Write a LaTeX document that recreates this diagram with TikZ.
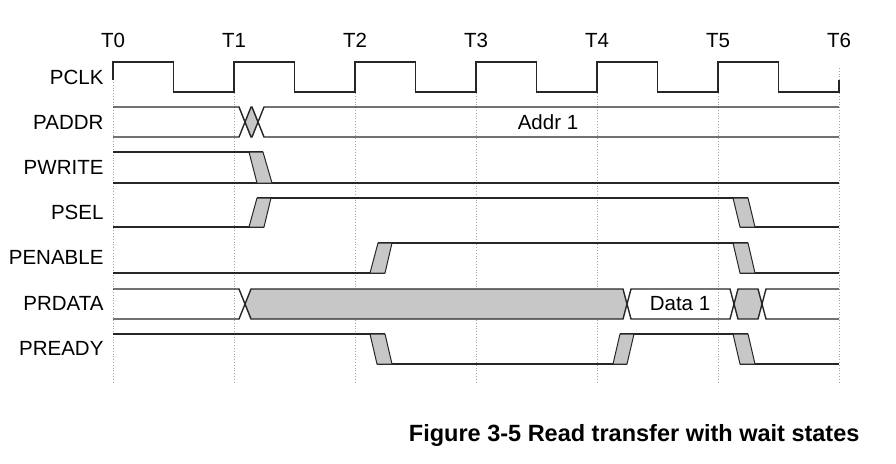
\documentclass[tikz,border=0pt]{standalone}
\usepackage{fontspec}
\setmainfont{Liberation Sans}
\begin{document}
\begin{tikzpicture}[x=1pt,y=-1pt,
  sig/.style={line width=1.4pt,black!85},
  tr/.style={draw=black!85,line width=1pt,fill=black!22},
  lab/.style={anchor=east,font=\fontsize{20.5}{20.5}\selectfont},
  tl/.style={font=\fontsize{20.5}{20.5}\selectfont},
  tm/.style={anchor=base,inner sep=0pt,font=\fontsize{20.5}{20.5}\selectfont},
  grid/.style={gray!70,dotted,line width=0.8pt}]
\useasboundingbox (0,0) rectangle (896,463);
% time marks
\foreach \i in {0,...,6}{
  \node[tm] (t\i) at (113+121*\i,47) {T\i};
  \draw[grid] (113+121*\i,68) -- (113+121*\i,382);
}
% labels
\node[lab] (lclk) at (107,77) {PCLK};
\node[lab] (ladr) at (107,122) {PADDR};
\node[lab] (lwr) at (107,167) {PWRITE};
\node[lab] (lsel) at (107,212) {PSEL};
\node[lab] (len) at (107,257) {PENABLE};
\node[lab] (lrd) at (107,303) {PRDATA};
\node[lab] (lrdy) at (107,348) {PREADY};
% PCLK
\draw[sig] (113,80) -- (113,62)
  \foreach \i in {0,...,5}{ -- ({113+121*\i},62) -- ({173.5+121*\i},62) -- ({173.5+121*\i},92) -- ({234+121*\i},92)} -- (839,80);
% PADDR
\fill[black!22] (245,122) -- (251,107) -- (252,107) -- (258,122) -- (252,137) -- (251,137) -- cycle;
\draw[sig] (113,107) -- (239,107) -- (251,137) -- (252,137) -- (264,107) -- (839,107);
\draw[sig] (113,137) -- (239,137) -- (251,107) -- (252,107) -- (264,137) -- (839,137);
\node[tl] (addr) at (548,122) {Addr 1};
% PWRITE
\draw[sig] (113,152) -- (263,152);
\draw[sig] (113,183) -- (839,183);
\draw[tr] (249,152) -- (263,152) -- (272,183) -- (257,183) -- cycle;
% PSEL
\draw[sig] (113,227) -- (264,227);
\draw[sig] (257,198) -- (748,198);
\draw[sig] (740,227) -- (839,227);
\draw[tr] (249,227) -- (264,227) -- (271,198) -- (257,198) -- cycle;
\draw[tr] (733,198) -- (748,198) -- (755,227) -- (740,227) -- cycle;
% PENABLE
\draw[sig] (113,273) -- (385,273);
\draw[sig] (378,243) -- (748,243);
\draw[sig] (740,273) -- (839,273);
\draw[tr] (370,273) -- (385,273) -- (392,243) -- (378,243) -- cycle;
\draw[tr] (733,243) -- (748,243) -- (755,273) -- (740,273) -- cycle;
% PRDATA
\fill[black!22] (245,304) -- (251,289) -- (623,289) -- (627,304) -- (623,319) -- (251,319) -- cycle;
\fill[black!22] (734,304) -- (738,289) -- (758,289) -- (762,304) -- (758,319) -- (738,319) -- cycle;
\draw[sig] (113,289) -- (239,289) -- (251,319) -- (623,319) -- (631,289) -- (730,289) -- (738,319) -- (758,319) -- (766,289) -- (839,289);
\draw[sig] (113,319) -- (239,319) -- (251,289) -- (623,289) -- (631,319) -- (730,319) -- (738,289) -- (758,289) -- (766,319) -- (839,319);
\node[tl] (data) at (680,304) {Data 1};
% PREADY
\draw[sig] (113,334) -- (385,334);
\draw[sig] (377,364) -- (627,364);
\draw[sig] (620,334) -- (748,334);
\draw[sig] (740,364) -- (839,364);
\draw[tr] (370,334) -- (385,334) -- (392,364) -- (377,364) -- cycle;
\draw[tr] (613,364) -- (627,364) -- (634,334) -- (620,334) -- cycle;
\draw[tr] (733,334) -- (748,334) -- (755,364) -- (740,364) -- cycle;
% caption
\node[anchor=east,font=\fontsize{23.5}{23.5}\selectfont\bfseries] (cap) at (863,435) {Figure 3-5 Read transfer with wait states};
\end{tikzpicture}
\end{document}
